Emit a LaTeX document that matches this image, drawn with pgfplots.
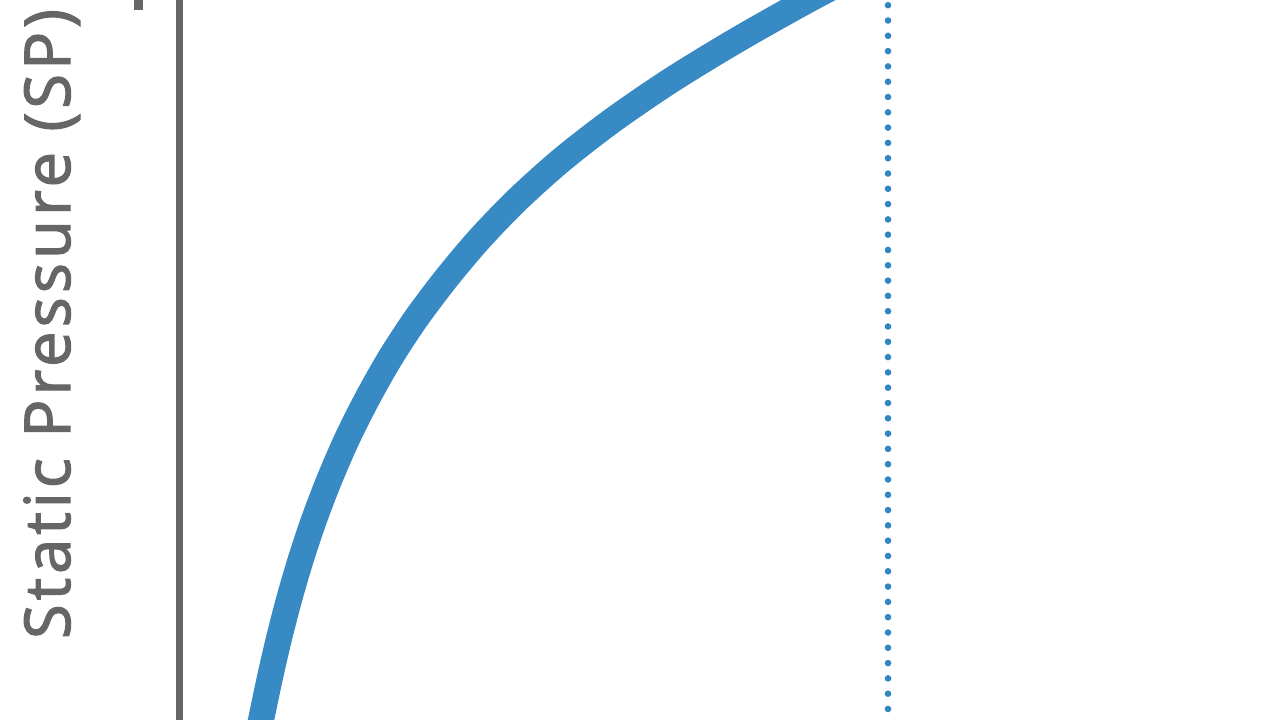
\documentclass[border=0pt]{standalone}
\usepackage{fontspec}
\setmainfont{Open Sans}
\newfontfamily\labelfont{Open Sans}[LetterSpace=6.4, FakeBold=2]
\usepackage{pgfplots}
\pgfplotsset{compat=1.18}
\definecolor{axisgray}{HTML}{666666}
\definecolor{labelgray}{HTML}{666666}
\definecolor{curveblue}{HTML}{378AC4}
\definecolor{dotblue}{HTML}{2F86C2}
\begin{document}
\begin{tikzpicture}
\useasboundingbox (0,0) rectangle (12.8cm,7.2cm);
\begin{axis}[
  at={(0,0)}, anchor=south west,
  width=12.8cm, height=7.2cm, scale only axis,
  hide axis,
  xmin=0, xmax=1280, ymin=0, ymax=720,
  y dir=reverse,
  clip=true, clip mode=individual,
]
% y axis line
\addplot[axisgray, line width=0.07cm, line cap=butt] coordinates {(179,-10) (179,730)};
% fragment of a tick label at the top
\addplot[axisgray, line width=0.09cm, line cap=butt] coordinates {(138,-5) (138,10)};
% curve
\addplot[curveblue, line width=0.26cm, smooth, line cap=butt] coordinates {
(257,740) (261,720) (269.4,680) (278.6,640) (288.9,600) (300.6,560)
(313.9,520) (329.2,480) (346.5,440) (366.5,400) (389,360) (415,320)
(445,280) (478.5,240) (517,200) (561.5,160) (613,120) (671.5,80)
(737,40) (808,0) (884,-40)
};
% dotted vertical line
\addplot[dotblue, line width=0.066cm, line cap=round, dash pattern=on 0pt off 0.153cm] coordinates {(888,709) (888,-10)};
\node[rotate=90, anchor=base, text=labelgray, font=\labelfont\fontsize{18}{20}\selectfont, inner sep=0pt] at (axis cs:70,324) {Static Pressure (SP)};
\end{axis}
\end{tikzpicture}
\end{document}
